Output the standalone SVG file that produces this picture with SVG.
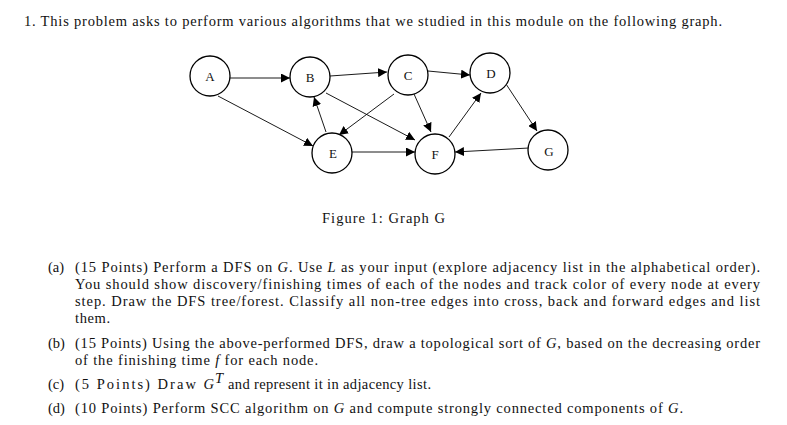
<svg xmlns="http://www.w3.org/2000/svg" width="787" height="425" viewBox="0 0 787 425">
<style>
text{font-family:"Liberation Serif",serif;font-size:14.5px;fill:#111}
.n circle{fill:#fff;stroke:#000;stroke-width:1.3}
.n text{font-size:13px;text-anchor:middle}
#edges line{stroke:#000;stroke-width:0.9;marker-end:url(#ah)}
</style>
<defs><marker id="ah" viewBox="0 0 10 10" refX="10" refY="5" markerWidth="9" markerHeight="9" markerUnits="userSpaceOnUse" orient="auto"><path d="M0,0L10,5L0,10z"/></marker></defs>
<rect width="787" height="425" fill="#fff"/>
<text x="24" y="26" textLength="698">1. This problem asks to perform various algorithms that we studied in this module on the following graph.</text>
<g id="edges">
<line x1="230" y1="78" x2="290" y2="78"/>
<line x1="218" y1="96" x2="313" y2="146"/>
<line x1="330" y1="76" x2="387" y2="72"/>
<line x1="428" y1="71" x2="470" y2="75"/>
<line x1="326" y1="132" x2="314" y2="97"/>
<line x1="326" y1="93" x2="415" y2="140"/>
<line x1="394" y1="94" x2="339" y2="135"/>
<line x1="414" y1="94" x2="431" y2="132"/>
<line x1="449" y1="137" x2="481" y2="93"/>
<line x1="506" y1="84" x2="537" y2="131"/>
<line x1="352" y1="152" x2="415" y2="152"/>
<line x1="529" y1="148" x2="455" y2="152"/>
</g>
<g id="A" class="n"><circle cx="210" cy="76" r="20"/><text x="210" y="81">A</text></g>
<g id="B" class="n"><circle cx="310" cy="77" r="20"/><text x="310" y="82">B</text></g>
<g id="C" class="n"><circle cx="408" cy="75" r="20"/><text x="408" y="80">C</text></g>
<g id="D" class="n"><circle cx="490" cy="73" r="20"/><text x="491" y="78">D</text></g>
<g id="E" class="n"><circle cx="332" cy="153" r="20"/><text x="333" y="158">E</text></g>
<g id="F" class="n"><circle cx="435" cy="154" r="20"/><text x="435" y="159">F</text></g>
<g id="G" class="n"><circle cx="548" cy="150" r="20"/><text x="549" y="156">G</text></g>
<text x="322" y="223" textLength="123">Figure 1: Graph G</text>
<text x="48" y="272">(a)</text>
<text x="75" y="272" textLength="685">(15 Points) Perform a DFS on <tspan font-style="italic">G</tspan>. Use <tspan font-style="italic">L</tspan> as your input (explore adjacency list in the alphabetical order).</text>
<text x="75" y="289" textLength="685">You should show discovery/finishing times of each of the nodes and track color of every node at every</text>
<text x="75" y="306" textLength="685">step. Draw the DFS tree/forest. Classify all non-tree edges into cross, back and forward edges and list</text>
<text x="75" y="323" textLength="35">them.</text>
<text x="48" y="348">(b)</text>
<text x="75" y="348" textLength="685">(15 Points) Using the above-performed DFS, draw a topological sort of <tspan font-style="italic">G</tspan>, based on the decreasing order</text>
<text x="75" y="365" textLength="243">of the finishing time <tspan font-style="italic">f</tspan> for each node.</text>
<text x="48" y="389">(c)</text>
<text x="75" y="389" textLength="139">(5 Points) Draw <tspan font-style="italic">G</tspan></text>
<text x="215" y="383" font-style="italic" font-size="10px">T</text>
<text x="228" y="389" textLength="203">and represent it in adjacency list.</text>
<text x="48" y="413">(d)</text>
<text x="75" y="413" textLength="608">(10 Points) Perform SCC algorithm on <tspan font-style="italic">G</tspan> and compute strongly connected components of <tspan font-style="italic">G</tspan>.</text>
</svg>
